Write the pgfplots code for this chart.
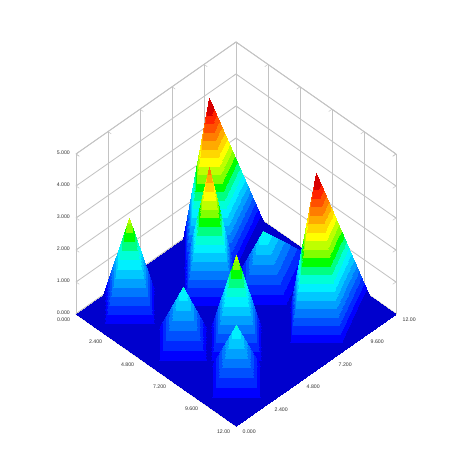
\documentclass[border=0pt]{standalone}
\usepackage{pgfplots}
\usepackage{fontspec}
\setmainfont{Liberation Sans}
\usepgfplotslibrary{patchplots}
\pgfplotsset{compat=1.18}
\pgfplotsset{colormap={band}{
rgb255=(0,0,205) rgb255=(0,0,255) rgb255=(0,40,255) rgb255=(0,80,255) rgb255=(0,120,255)
rgb255=(0,160,255) rgb255=(0,200,255) rgb255=(0,240,255) rgb255=(0,255,215) rgb255=(0,255,130)
rgb255=(0,255,0) rgb255=(130,255,0) rgb255=(190,255,0) rgb255=(255,255,0) rgb255=(255,215,0)
rgb255=(255,170,0) rgb255=(255,125,0) rgb255=(255,80,0) rgb255=(255,35,0) rgb255=(215,0,0)
rgb255=(215,0,0)}}
\definecolor{gridc}{RGB}{195,195,195}
\begin{document}
\begin{tikzpicture}[x=1pt,y=1pt]
\path[use as bounding box] (0,0) rectangle (474,474);
\begin{axis}[
  at={(76pt,160pt)}, anchor=origin,
  x={(13.3333pt,-9.3333pt)}, y={(13.3333pt,9.3333pt)}, z={(0pt,32pt)},
  xmin=0,xmax=12,ymin=0,ymax=12,zmin=0,zmax=5,
  xtick={0,2.4,4.8,7.2,9.6,12}, ytick={0,2.4,4.8,7.2,9.6,12}, ztick={0,1,2,3,4,5},
  xticklabels={0.000,2.400,4.800,7.200,9.600,12.00},
  yticklabels={0.000,2.400,4.800,7.200,9.600,12.00},
  zticklabels={0.000,1.000,2.000,3.000,4.000,5.000},
  tick label style={font=\fontsize{5.2}{6}\selectfont,text=black!80},
  xticklabel style={anchor=center,xshift=-12.4pt,yshift=-5.5pt},
  yticklabel style={anchor=center,xshift=13.2pt,yshift=-5.7pt},
  zticklabel style={anchor=center,xshift=-12.7pt,yshift=1.7pt},
  grid=major, grid style={gridc,line width=0.85pt},
  axis line style={gridc,line width=0.85pt},
  tick style={gridc,line width=0.5pt},
  major tick length=4pt,
  colormap name=band,
  colormap access=piecewise constant,
  point meta min=0, point meta max=5,
  clip=false,
]
\addplot3[patch, patch type=triangle, shader=interp, point meta=\thisrow{z}, z buffer=none,
 /pgfplots/table/row sep=\\,
 patch table={
28 35 36\\ 28 29 36\\ 30 29 36\\ 30 37 36\\ 30 37 38\\ 30 31 38\\ 32 31 38\\ 32 39 38\\ 32 39 40\\ 32 33 40\\ 34 33 40\\ 34 41 40\\
22 21 28\\ 22 29 28\\ 22 29 30\\ 22 23 30\\ 24 23 30\\ 24 31 30\\ 24 31 32\\ 24 25 32\\ 26 25 32\\ 26 33 32\\ 26 33 34\\ 26 27 34\\
14 21 22\\ 14 15 22\\ 16 15 22\\ 16 23 22\\ 16 23 24\\ 16 17 24\\ 17 24 25\\ 17 18 25\\ 19 18 25\\ 19 26 25\\ 19 26 27\\ 19 20 27\\
7 14 15\\ 7 8 15\\ 9 8 15\\ 9 16 15\\ 9 16 17\\ 9 10 17\\ 11 10 17\\ 11 18 17\\ 11 18 19\\ 11 12 19\\ 13 12 19\\ 13 20 19\\
1 0 7\\ 1 8 7\\ 1 8 9\\ 1 2 9\\ 3 2 9\\ 3 10 9\\ 3 10 11\\ 3 4 11\\ 5 4 11\\ 5 12 11\\ 5 12 13\\ 5 6 13\\
}] table[row sep=\\] {
x y z\\
0 0 0\\ 2 0 0\\ 4 0 0\\ 6 0 0\\ 8 0 0\\ 10 0 0\\ 12 0 0\\
0 2 0\\ 2 2 3\\ 4 2 0\\ 6 2 2\\ 8 2 0\\ 10 2 2\\ 12 2 0\\
0 4 0\\ 2 4 0\\ 4 4 0\\ 6 4 0\\ 8 4 3\\ 10 4 0\\ 12 4 0\\
0 6 0\\ 2 6 0\\ 4 6 4\\ 6 6 0\\ 8 6 0\\ 10 6 0\\ 12 6 0\\
0 8 0\\ 2 8 5\\ 4 8 0\\ 6 8 2\\ 8 8 0\\ 10 8 5\\ 12 8 0\\
0 12 0\\ 2 12 0\\ 4 12 0\\ 6 12 0\\ 8 12 0\\ 10 12 0\\ 12 12 0\\
};
\end{axis}
\end{tikzpicture}
\end{document}
